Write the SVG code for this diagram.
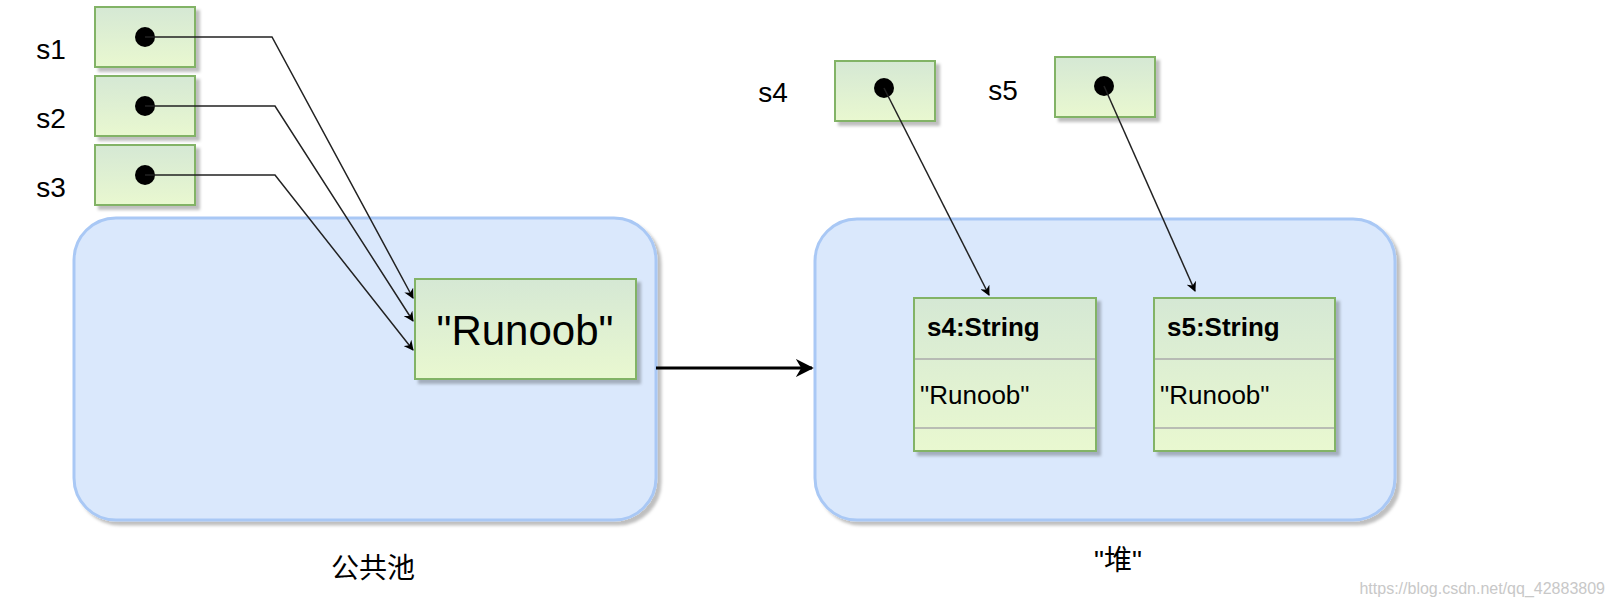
<svg xmlns="http://www.w3.org/2000/svg" width="1612" height="608" viewBox="0 0 1612 608">
<defs>
<linearGradient id="g" x1="0" y1="0" x2="0" y2="1"><stop offset="0" stop-color="#d5e8d4"/><stop offset="1" stop-color="#e9f8d0"/></linearGradient>
<filter id="sh" x="-10%" y="-10%" width="130%" height="130%"><feDropShadow dx="4" dy="4" stdDeviation="1.5" flood-color="#000" flood-opacity="0.25"/></filter>
<marker id="ar" viewBox="0 0 10 10" refX="9" refY="5" markerWidth="10" markerHeight="10" markerUnits="userSpaceOnUse" orient="auto"><path d="M0,0 L10,5 L0,10 L3,5 z" fill="#000"/></marker>
<marker id="ar2" viewBox="0 0 10 10" refX="9" refY="5" markerWidth="18" markerHeight="18" markerUnits="userSpaceOnUse" orient="auto"><path d="M0,0 L10,5 L0,10 L3,5 z" fill="#000"/></marker>
</defs>
<style>
.box{fill:url(#g);stroke:#82b366;stroke-width:2;filter:url(#sh)}
.cont{fill:#dae8fc;stroke:#a9c8f5;stroke-width:3;filter:url(#sh)}
.t{font-family:"Liberation Sans","Noto Sans CJK SC",sans-serif;fill:#000}
.lbl{font-size:28px}
.dot{fill:#000}
.ln{fill:none;stroke:#222;stroke-width:1.5;marker-end:url(#ar)}
.div{stroke:#aaa;stroke-width:1.5}
</style>
<g id="pool"><rect class="cont" x="74" y="218" width="582" height="302" rx="42"/><text class="t" x="373" y="578" font-size="28" text-anchor="middle">公共池</text></g>
<g id="heap"><rect class="cont" x="815" y="219" width="580" height="301" rx="42"/><text class="t" x="1118" y="570" font-size="28" text-anchor="middle">"堆"</text></g>
<g id="s1"><rect class="box" x="95" y="7" width="100" height="60"/><circle class="dot" cx="145" cy="37" r="10"/><text class="t lbl" x="51" y="59" text-anchor="middle">s1</text></g>
<g id="s2"><rect class="box" x="95" y="76" width="100" height="60"/><circle class="dot" cx="145" cy="106" r="10"/><text class="t lbl" x="51" y="128" text-anchor="middle">s2</text></g>
<g id="s3"><rect class="box" x="95" y="145" width="100" height="60"/><circle class="dot" cx="145" cy="175" r="10"/><text class="t lbl" x="51" y="197" text-anchor="middle">s3</text></g>
<g id="runoob"><rect class="box" x="415" y="279" width="221" height="100"/><text class="t" x="525" y="345" font-size="42" text-anchor="middle">"Runoob"</text></g>
<g id="s4"><rect class="box" x="835" y="61" width="100" height="60"/><circle class="dot" cx="884" cy="88" r="10"/><text class="t lbl" x="773" y="102" text-anchor="middle">s4</text></g>
<g id="s5"><rect class="box" x="1055" y="57" width="100" height="60"/><circle class="dot" cx="1104" cy="86" r="10"/><text class="t lbl" x="1003" y="100" text-anchor="middle">s5</text></g>
<g id="s4str"><rect class="box" x="914" y="298" width="182" height="153"/><line class="div" x1="915" y1="359" x2="1095" y2="359"/><line class="div" x1="915" y1="428" x2="1095" y2="428"/><text class="t" x="927" y="336" font-size="26" font-weight="bold">s4:String</text><text class="t" x="920" y="404" font-size="26">"Runoob"</text></g>
<g id="s5str"><rect class="box" x="1154" y="298" width="181" height="153"/><line class="div" x1="1155" y1="359" x2="1334" y2="359"/><line class="div" x1="1155" y1="428" x2="1334" y2="428"/><text class="t" x="1167" y="336" font-size="26" font-weight="bold">s5:String</text><text class="t" x="1160" y="404" font-size="26">"Runoob"</text></g>
<g id="connectors">
<polyline class="ln" points="145,37 272,37 413,298"/>
<polyline class="ln" points="145,106 275,106 413,321"/>
<polyline class="ln" points="145,175 275,175 413,350"/>
<line class="ln" x1="884" y1="88" x2="989" y2="295"/>
<line class="ln" x1="1104" y1="86" x2="1195" y2="291"/>
<line x1="656" y1="368" x2="812" y2="368" stroke="#000" stroke-width="3" marker-end="url(#ar2)"/>
</g>
<text class="t" x="1605" y="594" font-size="16" fill="#ccc" style="fill:#c8c8c8" text-anchor="end">https://blog.csdn.net/qq_42883809</text>
</svg>
